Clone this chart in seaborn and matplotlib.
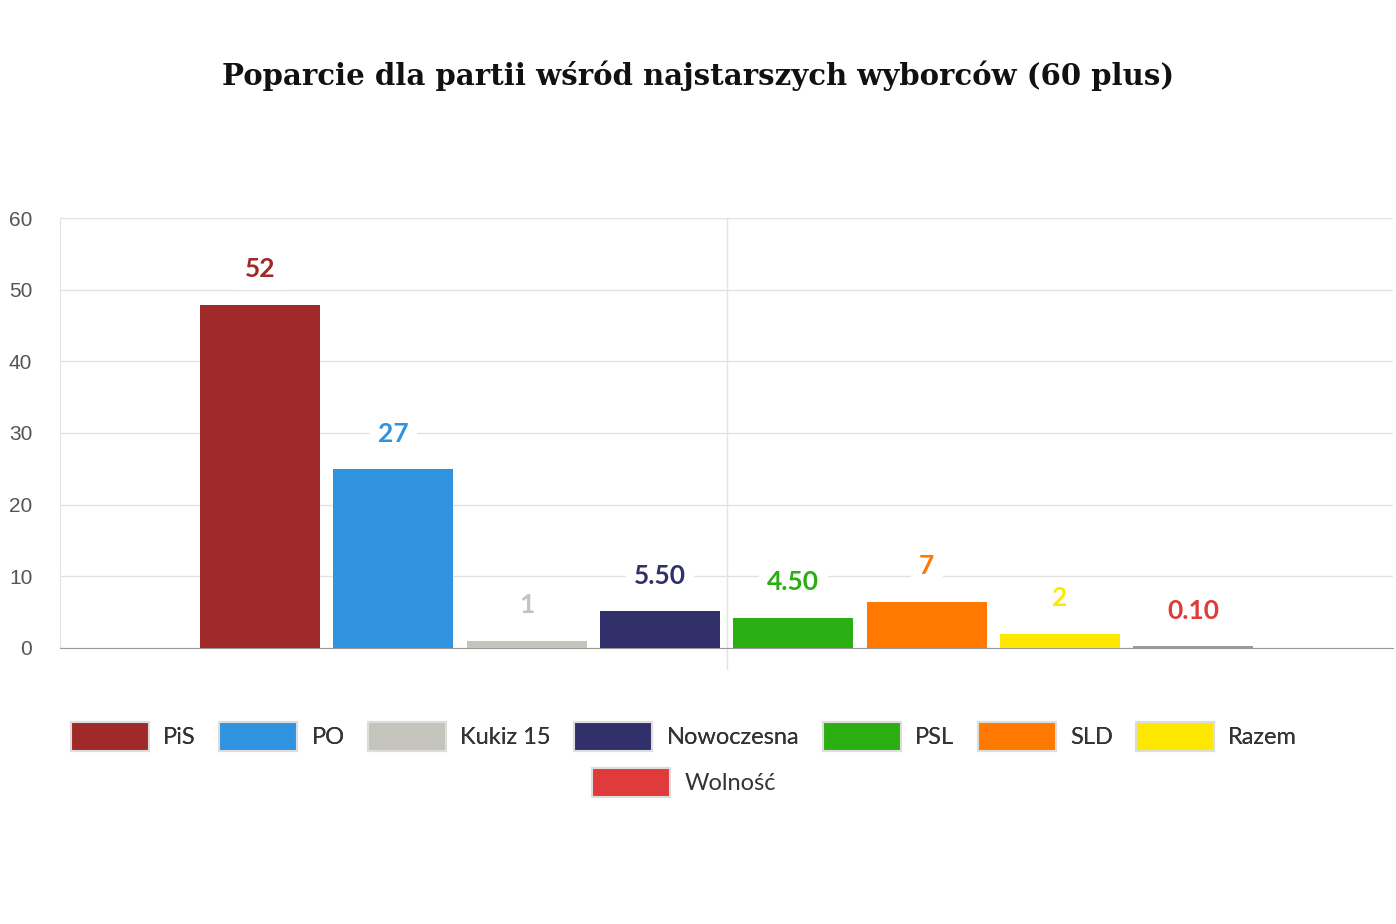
import matplotlib
matplotlib.use("Agg")
import matplotlib.pyplot as plt
import seaborn as sns
import pandas as pd
from matplotlib.patches import Patch

parties = ["PiS", "PO", "Kukiz 15", "Nowoczesna", "PSL", "SLD", "Razem", "Wolność"]
bar_values = [47.9, 24.9, 1.0, 5.1, 4.2, 6.4, 1.9, 0.2]
label_texts = ["52", "27", "1", "5.50", "4.50", "7", "2", "0.10"]
colors = ["#a0292a", "#3093e0", "#c4c4bd", "#32306a", "#2bae12", "#ff7800", "#ffe800", "#e03a3a"]
bar_colors = colors[:7] + ["#9a9a9a"]
yticks = [0, 10, 20, 30, 40, 50, 60]

slots = [""] + parties + [" "]
df = pd.DataFrame({"party": slots, "value": [0] + bar_values + [0]})

fig = plt.figure(figsize=(13.96, 9.24), dpi=100)
ax = fig.add_axes([0.043, 0.299, 0.955, 0.465])
sns.barplot(data=df, x="party", y="value", order=slots,
            palette=["#ffffff"] + bar_colors + ["#ffffff"], hue="party", legend=False,
            width=0.9, saturation=1, ax=ax, zorder=3)
ax.set_xlim(-0.5, 9.5)
ax.set_ylim(0, 60)
ax.set_yticks(yticks)
ax.set_yticklabels([str(t) for t in yticks], fontsize=15, color="#555555", family="Liberation Sans")
ax.tick_params(axis="y", length=0, pad=20)
ax.tick_params(axis="x", length=0, labelbottom=False)
ax.set_xlabel(""); ax.set_ylabel("")
ax.grid(axis="y", color="#e2e2e2", lw=1, zorder=0)
ax.axvline(4.5, ymin=-0.05, ymax=1, color="#e2e2e2", lw=1, clip_on=False, zorder=0)
for s in ["top", "right"]:
    ax.spines[s].set_visible(False)
ax.spines["left"].set_color("#e2e2e2")
ax.spines["bottom"].set_color("#999999")

for i, (v, t, c) in enumerate(zip(bar_values, label_texts, colors)):
    ax.text(i + 1, v + 3.3, t, ha="center", va="bottom", fontsize=19, fontweight="bold",
            color=c, family="Lato", zorder=5,
            bbox=dict(facecolor="white", edgecolor="none", pad=6))

fig.suptitle("Poparcie dla partii wśród najstarszych wyborców (60 plus)", y=0.935,
             fontsize=21, fontweight="bold", family="DejaVu Serif", color="#111111")

handles = [Patch(facecolor=c, edgecolor="#dddddd", lw=1.5) for c in colors]
common = dict(loc="center", frameon=False, handlelength=3.3, handleheight=1.5,
              columnspacing=1.0, handletextpad=0.6,
              prop={"family": "Lato", "size": 17}, labelcolor="#333333")
leg1 = fig.legend(handles[:7], parties[:7], bbox_to_anchor=(0.49, 0.203), ncol=7, **common)
fig.add_artist(leg1)
fig.legend(handles[7:], parties[7:], bbox_to_anchor=(0.49, 0.153), ncol=1, **common)
fig.savefig("out.png", dpi=100, facecolor="white")
